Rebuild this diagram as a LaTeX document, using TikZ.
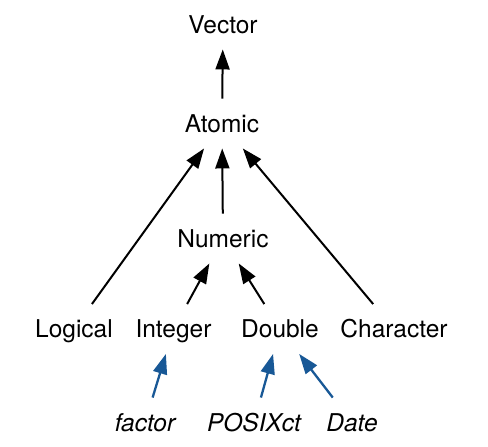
\documentclass[tikz,border=0pt]{standalone}
\usepackage{fontspec}
\setmainfont{TeX Gyre Heros}
\usetikzlibrary{arrows.meta}
\definecolor{classblue}{RGB}{24,88,150}
\begin{document}
\begin{tikzpicture}[x=1pt,y=-1pt,font=\fontsize{24.5}{28}\selectfont,
    every node/.style={text height=17.5pt,text depth=0pt,inner xsep=2pt,inner ysep=16pt},
    isa/.style={line width=2pt,-{Triangle[length=20pt,width=14pt]}},
    s3class/.style={isa,classblue,line width=2.3pt}]
            \useasboundingbox (0,0) rectangle (488,447);
            \node (vector) at (223,24.5){Vector};
            \node (atomic) at (222,123.5){Atomic};
            \node (numeric) at (223,238.5){Numeric};
            \node (logical) at (74,329){Logical};
            \node (integer) at (173.5,329){Integer};
            \node (double) at (280,329){Double};
            \node (character) at (394,329){Character};
            % S3 classes built on the base types
            \node[font=\fontsize{24.5}{28}\selectfont\itshape] (factor) at (145,422.5){factor};
            \node[font=\fontsize{24.5}{28}\selectfont\itshape] (posixct) at (254,422.5){POSIXct};
            \node[font=\fontsize{24.5}{28}\selectfont\itshape] (date) at (352,422.5){Date};

            \draw[isa] (atomic) -- (vector);
            \draw[isa] (logical) -- (atomic);
            \draw[isa] (numeric) -- (atomic);
            \draw[isa] (character) -- (atomic);
            \draw[isa] (integer) -- (numeric);
            \draw[isa] (double) -- (numeric);
            \draw[s3class] (factor) -- (integer);
            \draw[s3class] (posixct) -- (double);
            \draw[s3class] (date) -- (double);
        \end{tikzpicture}
\end{document}
